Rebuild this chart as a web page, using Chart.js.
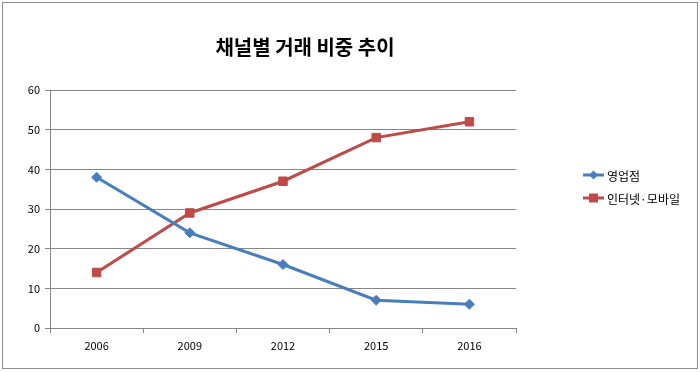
<!DOCTYPE html>
<html>
<head>
<meta charset="utf-8">
<script src="https://cdn.jsdelivr.net/npm/chart.js@4"></script>
<style>
  html, body { margin: 0; padding: 0; background: #fff; }
  #wrap { width: 700px; height: 372px; }
</style>
</head>
<body>
<div id="wrap"><canvas id="myChart"></canvas></div>
<script>
const titleText = '채널별 거래 비중 추이';
const years = ['2006', '2009', '2012', '2015', '2016'];
const seriesNames = ['영업점', '인터넷·모바일'];
const branchValues = [38, 24, 16, 7, 6];
const onlineValues = [14, 29, 37, 48, 52];
const yTicks = [0, 10, 20, 30, 40, 50, 60];

const FONT = '"Noto Sans CJK KR", "Noto Sans", sans-serif';

// border, title and the right-hand legend
const decor = {
  id: 'decor',
  beforeDraw(chart) {
    const c = chart.ctx;
    c.save();
    c.fillStyle = '#fff';
    c.fillRect(0, 0, chart.width, chart.height);
    c.strokeStyle = '#8c8c8c';
    c.lineWidth = 1;
    c.strokeRect(2.5, 2.5, 695, 366);
    c.restore();
  },
  afterDraw(chart) {
    const c = chart.ctx;
    c.save();
    c.fillStyle = '#000';
    c.font = 'bold 20px ' + FONT;
    c.textAlign = 'center';
    c.textBaseline = 'middle';
    c.fillText(titleText, 305, 47);

    c.font = '12px ' + FONT;
    c.textAlign = 'left';
    chart.data.datasets.forEach((ds, i) => {
      const y = 175 + i * 23;
      c.strokeStyle = ds.borderColor;
      c.lineWidth = 3;
      c.beginPath();
      c.moveTo(583, y);
      c.lineTo(604, y);
      c.stroke();
      c.fillStyle = ds.pointBackgroundColor;
      if (ds.pointStyle === 'rectRot') {
        c.beginPath();
        c.moveTo(593.5, y - 4.5);
        c.lineTo(598, y);
        c.lineTo(593.5, y + 4.5);
        c.lineTo(589, y);
        c.closePath();
        c.fill();
      } else {
        c.fillRect(589, y - 4.5, 9, 9);
      }
      c.fillStyle = '#000';
      c.fillText(ds.label, 607, y + 1);
    });
    c.restore();
  }
};

const ctx = document.getElementById('myChart').getContext('2d');
const myChart = new Chart(ctx, {
  type: 'line',
  data: {
    labels: years,
    datasets: [{
      label: seriesNames[0],
      data: branchValues,
      borderColor: '#4A7EBB',
      backgroundColor: '#4A7EBB',
      pointBackgroundColor: '#4A7EBB',
      pointBorderColor: '#4A7EBB',
      pointStyle: 'rectRot',
      pointRadius: 5,
      pointBorderWidth: 1,
      borderWidth: 3,
      tension: 0
    }, {
      label: seriesNames[1],
      data: onlineValues,
      borderColor: '#BE4B48',
      backgroundColor: '#BE4B48',
      pointBackgroundColor: '#BE4B48',
      pointBorderColor: '#BE4B48',
      pointStyle: 'rect',
      pointRadius: 6,
      pointBorderWidth: 1,
      borderWidth: 3,
      tension: 0
    }]
  },
  options: {
    responsive: true,
    maintainAspectRatio: false,
    animation: false,
    layout: {
      padding: { left: 0, right: 184, top: 90, bottom: 0 }
    },
    plugins: {
      legend: { display: false },
      title: { display: false },
      tooltip: { enabled: false }
    },
    scales: {
      x: {
        offset: true,
        grid: {
          offset: true,
          drawOnChartArea: false,
          drawTicks: true,
          tickLength: 5,
          color: '#868686'
        },
        border: { color: '#868686' },
        ticks: {
          color: '#000',
          padding: 6,
          font: { family: FONT, size: 11 }
        },
        afterFit: (s) => { s.height = 44; }
      },
      y: {
        min: 0,
        max: 60,
        afterBuildTicks: (s) => { s.ticks = yTicks.map(v => ({ value: v })); },
        grid: {
          color: '#868686',
          tickLength: 5
        },
        border: { color: '#868686' },
        ticks: {
          color: '#000',
          padding: 5,
          font: { family: FONT, size: 11 }
        },
        afterFit: (s) => { s.width = 50; }
      }
    }
  },
  plugins: [decor]
});
</script>
</body>
</html>
